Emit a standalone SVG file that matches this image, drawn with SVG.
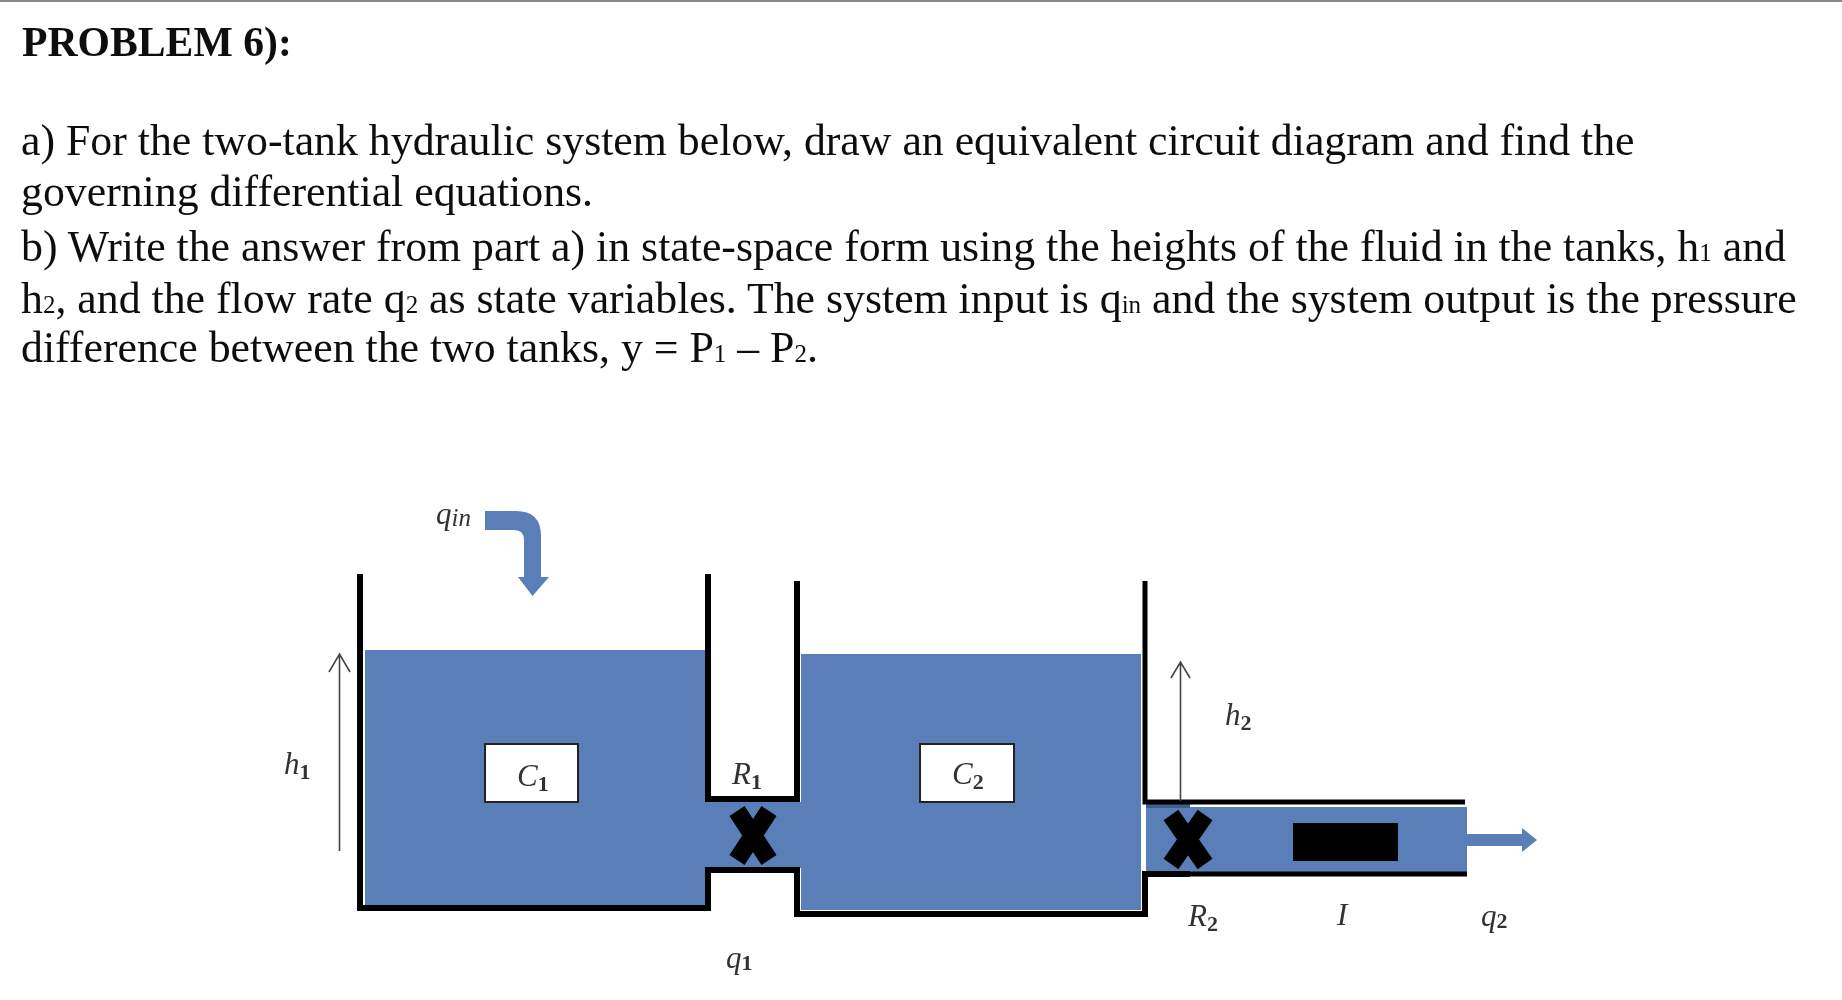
<svg xmlns="http://www.w3.org/2000/svg" width="1842" height="1000" viewBox="0 0 1842 1000">
<defs>
<style>
.t{font-family:"Liberation Serif","Times New Roman",serif;font-size:43.8px;fill:#111}
.m{font-family:"Liberation Serif","Times New Roman",serif;font-style:italic;font-size:31px;fill:#333}
.s{font-style:normal;font-size:22px;font-weight:bold}
.i{font-size:25px}
.w{fill:none;stroke:#000;stroke-linejoin:miter;stroke-linecap:butt}
.f{fill:#5a7eb8}
.x{stroke:#000;stroke-width:18;stroke-linecap:butt}
.b{fill:#fff;stroke:#222;stroke-width:2}
.thin{fill:none;stroke:#444;stroke-width:1.6}
.u{font-size:25px}
</style>
<filter id="soft" x="-2%" y="-2%" width="104%" height="104%"><feGaussianBlur stdDeviation="0.7"/></filter>
</defs>
<rect width="1842" height="1000" fill="#fff"/>
<rect width="1842" height="2" fill="#888"/>
<g id="problem-text" filter="url(#soft)">
<text class="t" x="22" y="56" font-weight="bold" style="font-size:41.7px">PROBLEM 6):</text>
<text class="t" x="21" y="155">a) For the two-tank hydraulic system below, draw an equivalent circuit diagram and find the</text>
<text class="t" x="21" y="206">governing differential equations.</text>
<text class="t" x="21" y="261">b) Write the answer from part a) in state-space form using the heights of the fluid in the tanks, h<tspan class="u">1</tspan>  and</text>
<text class="t" x="21" y="313">h<tspan class="u">2</tspan>, and the flow rate q<tspan class="u">2</tspan> as state variables. The system input is q<tspan class="u">in</tspan> and the system output is the pressure</text>
<text class="t" x="21" y="362">difference between the two tanks, y = P<tspan class="u">1</tspan> – P<tspan class="u">2</tspan>.</text>
</g>
<g filter="url(#soft)">
<g id="tank-1">
<path class="f" d="M365 650H706V802H801V868H706V905H365Z"/>
<rect id="c1-box" class="b" x="485" y="744" width="93" height="58"/>
<text class="m" x="517" y="786">C<tspan class="s" dy="5">1</tspan></text>
</g>
<g id="tank-2">
<path class="f" d="M801 654H1141V910H801Z"/>
<rect id="c2-box" class="b" x="920" y="744" width="94" height="58"/>
<text class="m" x="952" y="784">C<tspan class="s" dy="5">2</tspan></text>
</g>
<g id="pipe">
<rect class="f" x="1146" y="807" width="321" height="65"/>
<rect x="1146" y="803" width="44" height="5" fill="#3f5f90"/>
<rect id="inertance" x="1293" y="823" width="105" height="38" fill="#000"/>
<text class="m" x="1337" y="925">I</text>
</g>
<g id="walls">
<path class="w" stroke-width="6" d="M360 574V908H708V870H797V914H1145V874H1190"/>
<path class="w" stroke-width="6" d="M708 574V799H797V581"/>
<path class="w" stroke-width="5" d="M1145 581V802H1465"/>
<path class="w" stroke-width="5" d="M1190 874H1467"/>
</g>
<g id="resistor-1">
<path class="x" d="M737 811L769 860M769 811L737 860"/>
<text class="m" x="732" y="784">R<tspan class="s" dy="5">1</tspan></text>
</g>
<g id="resistor-2">
<path class="x" d="M1171 815L1205 864M1205 815L1171 864"/>
<text class="m" x="1188" y="926">R<tspan class="s" dy="5">2</tspan></text>
</g>
<g id="labels">
<text class="m" x="284" y="774">h<tspan class="s" dy="5">1</tspan></text>
<text class="m" x="1225" y="725">h<tspan class="s" dy="5">2</tspan></text>
<text class="m" x="436" y="524">q<tspan class="i" dy="2">in</tspan></text>
<text class="m" x="726" y="968">q<tspan class="s" dy="2">1</tspan></text>
<text class="m" x="1481" y="926">q<tspan class="s" dy="2">2</tspan></text>
</g>
<g id="connectors">
<path id="qin-arrow" class="f" d="M485 511H516Q541 511 541 536V577H549L532.500 596L518 577H524V540Q524 530 514 530H485Z"/>
<path id="q2-arrow" class="f" d="M1467 834H1522V828L1537 840L1522 852V846H1467Z"/>
<path id="h1-arrow" class="thin" d="M339.500 851V654M329 672L339.500 654L350 672"/>
<path id="h2-arrow" class="thin" d="M1180.500 801V662M1171 678L1180.500 662L1190 678"/>
</g>
</g>
</svg>
